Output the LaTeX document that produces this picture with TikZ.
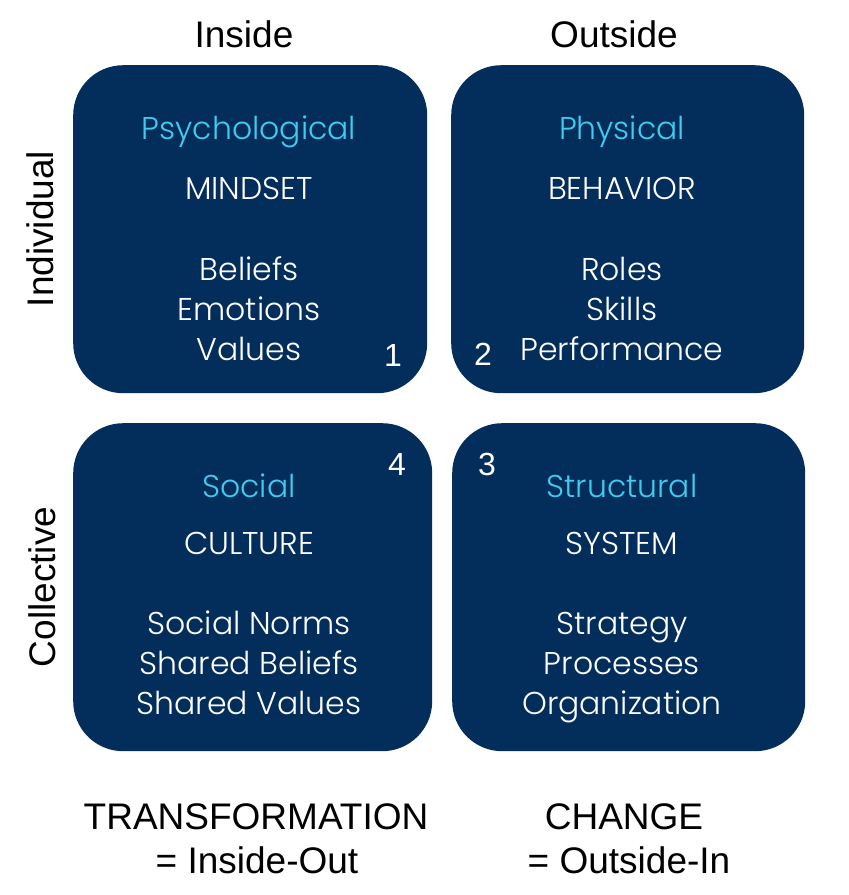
\documentclass[tikz,border=0pt]{standalone}
\usepackage{fontspec}
\setmainfont{Poppins}[UprightFont=* Light]
\newfontfamily\labelfont{Liberation Sans}
\definecolor{navy}{HTML}{032E5C}
\definecolor{skyblue}{HTML}{40CCEF}

\begin{document}
\begin{tikzpicture}[x=1pt, y=-1pt,
    quad/.style={fill=navy, rounded corners=50pt, inner sep=0pt,
                 anchor=north west},
    txt/.style={anchor=base, inner sep=0pt, text=white,
                font=\fontsize{31.5}{38}\selectfont},
    head/.style={txt, text=skyblue},
    num/.style={anchor=base, inner sep=0pt, text=white,
                font=\labelfont\fontsize{32}{38}\selectfont},
    side/.style={anchor=base, inner sep=0pt,
                 font=\labelfont\fontsize{37}{44}\selectfont}]
  \useasboundingbox (0,0) rectangle (849,895);

  % quadrants
  \node[quad, minimum width=354pt, minimum height=328pt] (q1) at (73,65) {};
  \node[quad, minimum width=353pt, minimum height=328pt] (q2) at (451,65) {};
  \node[quad, minimum width=353pt, minimum height=328pt] (q3) at (452,423) {};
  \node[quad, minimum width=359pt, minimum height=328pt] (q4) at (73,423) {};

  % 1: psychological
  \node[head] (q1h) at (249,139) {Psychological};
  \node[txt]  (q1k) at (249,199) {MINDSET};
  \foreach \w [count=\i] in {Beliefs,Emotions,Values}
    \node[txt] (q1l\i) at (249,240+40*\i) {\w};
  \node[num] (q1n) at (393,366) {1};

  % 2: physical
  \node[head] (q2h) at (622,139) {Physical};
  \node[txt]  (q2k) at (622,199) {BEHAVIOR};
  \foreach \w [count=\i] in {Roles,Skills,Performance}
    \node[txt] (q2l\i) at (622,240+40*\i) {\w};
  \node[num] (q2n) at (483,365) {2};

  % 3: structural
  \node[head] (q3h) at (622,497) {Structural};
  \node[txt]  (q3k) at (622,554) {SYSTEM};
  \foreach \w [count=\i] in {Strategy,Processes,Organization}
    \node[txt] (q3l\i) at (622,594+40*\i) {\w};
  \node[num] (q3n) at (487,475) {3};

  % 4: social
  \node[head] (q4h) at (249,497) {Social};
  \node[txt]  (q4k) at (249,554) {CULTURE};
  \foreach \w [count=\i] in {Social Norms,Shared Beliefs,Shared Values}
    \node[txt] (q4l\i) at (249,594+40*\i) {\w};
  \node[num] (q4n) at (397,475) {4};

  % axis labels
  \node[side] (inside)  at (244,47) {Inside};
  \node[side] (outside) at (614,47) {Outside};
  \node[side, rotate=90] (indiv) at (53,229) {Individual};
  \node[side, rotate=90] (coll)  at (55,587) {Collective};
  \node[side] (transf) at (256,829) {TRANSFORMATION};
  \node[side] (inout)  at (257,873) {= Inside-Out};
  \node[side] (change) at (624,829) {CHANGE};
  \node[side] (outin)  at (629,873) {= Outside-In};
\end{tikzpicture}
\end{document}
